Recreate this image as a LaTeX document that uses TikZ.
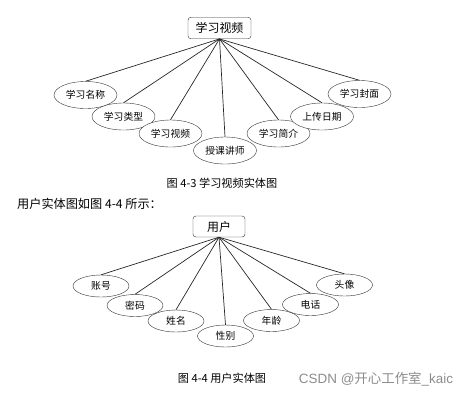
\documentclass[tikz,border=0pt]{standalone}
\usepackage{fontspec}
\setmainfont{Noto Sans CJK SC}
\newfontfamily\wmfont{Liberation Sans}
\usetikzlibrary{shapes.geometric, positioning}
\tikzset{
  ent/.style={
    rectangle, draw=black!80, fill=white,
    rounded corners=3pt, inner sep=0pt,
    minimum width=#1, minimum height=2.15em,
    font=\fontsize{12}{12}\selectfont
  },
  attr/.style={
    ellipse, draw=black!80, fill=white,
    minimum width=63bp, minimum height=27bp, inner sep=0pt,
    font=\fontsize{9.8}{10}\selectfont
  },
  sattr/.style={
    ellipse, draw=black!80, fill=white,
    minimum width=56bp, minimum height=22bp, inner sep=0pt,
    font=\fontsize{9.8}{10}\selectfont
  },
  lnk/.style={draw=black!85, line width=0.7pt},
  captxt/.style={font=\fontsize{11.2}{12}\selectfont, inner sep=0pt}
}
\begin{document}
\begin{tikzpicture}[x=1bp, y=-1bp]
  \useasboundingbox (0,0) rectangle (474,403);

  % video entity
  \node[ent=63bp] (video) at (219.5,28) {学习视频};
  \node[attr] (vname)  at (85.5,95)   {学习名称};
  \node[attr] (vtype)  at (123.5,116.5) {学习类型};
  \node[attr] (vfile)  at (170.5,133.5) {学习视频};
  \node[attr] (vteach) at (225,150.5) {授课讲师};
  \node[attr] (vintro) at (278.5,133.5) {学习简介};
  \node[attr] (vdate)  at (322,116.5) {上传日期};
  \node[attr] (vcover) at (359.5,94)  {学习封面};

  \foreach \a in {vname, vtype, vfile, vteach, vintro, vdate, vcover}
    \draw[lnk] (video.south) -- (\a.north);

  \node[captxt] (cap1) at (222,183) {图 4-3 学习视频实体图};
  \node[captxt, font=\fontsize{12.2}{13}\selectfont, anchor=west] (intro)
    at (17,204) {用户实体图如图 4-4 所示：};

  % user entity
  \node[ent=52bp, minimum height=21bp] (user) at (219,226.5) {用户};
  \node[sattr] (uacc)  at (101,286)   {账号};
  \node[sattr] (upwd)  at (135,305.5) {密码};
  \node[sattr] (uname) at (176,321)   {姓名};
  \node[sattr] (usex)  at (225.5,336) {性别};
  \node[sattr] (uage)  at (271.5,320.5) {年龄};
  \node[sattr] (utel)  at (310.5,304.5) {电话};
  \node[sattr] (uhead) at (344.5,285) {头像};

  \foreach \a in {uacc, upwd, uname, usex, uage, utel, uhead}
    \draw[lnk] (user.south) -- (\a.north);

  \node[captxt] (cap2) at (222,378) {图 4-4 用户实体图};
  \node[font=\fontsize{13.5}{14}\selectfont, text=black!45, inner sep=0pt]
    (mark) at (376,379) {{\wmfont CSDN @}开心工作室{\wmfont \_kaic}};
\end{tikzpicture}
\end{document}
